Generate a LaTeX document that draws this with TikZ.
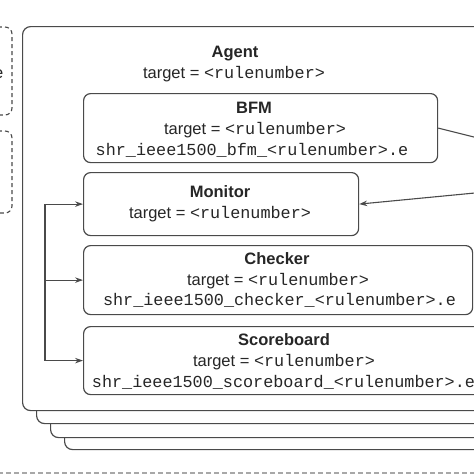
\documentclass[tikz,border=0pt]{standalone}
\usepackage{fontspec}
\setmainfont{Liberation Sans}
\newfontfamily\monofam{Liberation Mono}
\usetikzlibrary{arrows.meta}
\definecolor{ln}{HTML}{4A4A4A}
\definecolor{tx}{HTML}{262626}
\definecolor{dl}{HTML}{A8A8A8}
\begin{document}
\begin{tikzpicture}[x=1pt,y=-1pt,
  frame/.style={draw=ln, line width=1.2pt, rounded corners=8pt, fill=white, rectangle, inner sep=0, anchor=north west},
  ibox/.style={draw=ln, line width=1.2pt, rounded corners=7pt, fill=white, rectangle, inner sep=0, anchor=north west},
  dbox/.style={draw=ln, line width=1.1pt, rounded corners=7pt, dash pattern=on 4pt off 3pt},
  ttl/.style={font=\fontsize{16.5}{18}\selectfont\bfseries, text=tx, inner sep=0, anchor=base},
  lbl/.style={font=\fontsize{16.5}{18}\selectfont, text=tx, inner sep=0, anchor=base},
  mlbl/.style={font=\fontsize{16.8}{18}\selectfont\monofam, text=tx, inner sep=0, anchor=base},
  conn/.style={draw=ln, line width=1.1pt},
  arr/.style={conn, -{Stealth[length=8pt,width=5.5pt]}},
  sep/.style={draw=dl, line width=2pt, dash pattern=on 5pt off 3pt}]
\useasboundingbox (0,0) rectangle (474,474);
% left dashed boxes (cut off)
\draw[dbox] (-30,27) -- (12,27) -- (12,115) -- (-30,115);
\draw[dbox] (-30,131) -- (12,131) -- (12,213) -- (-30,213);
\node[lbl, anchor=base east] (cut) at (3.5,78) {e};
% stacked agent frames
\node[frame, minimum width=520pt, minimum height=381pt] (s3) at (64,68) {};
\node[frame, minimum width=520pt, minimum height=383pt] (s2) at (50,54) {};
\node[frame, minimum width=520pt, minimum height=383pt] (s1) at (36,40) {};
\node[frame, minimum width=520pt, minimum height=384pt] (agent) at (22,26) {};
\node[ttl] (agentT) at (235,57) {Agent};
\node[lbl] (agentL) at (234,78) {target = {\monofam\fontsize{16.8}{18}\selectfont <rulenumber>}};
% BFM
\node[ibox, minimum width=354pt, minimum height=69pt] (bfm) at (83,93) {};
\node[ttl] (bfmT) at (254,113) {BFM};
\node[lbl] (bfmL) at (255,134) {target = {\monofam\fontsize{16.8}{18}\selectfont <rulenumber>}};
\node[mlbl] (bfmF) at (252,155) {shr\_ieee1500\_bfm\_<rulenumber>.e};
% Monitor
\node[ibox, minimum width=275pt, minimum height=63pt] (mon) at (83,172) {};
\node[ttl] (monT) at (220,197) {Monitor};
\node[lbl] (monL) at (220,218) {target = {\monofam\fontsize{16.8}{18}\selectfont <rulenumber>}};
% Checker
\node[ibox, minimum width=389pt, minimum height=69pt] (chk) at (83,245) {};
\node[ttl] (chkT) at (277,264) {Checker};
\node[lbl] (chkL) at (278,285) {target = {\monofam\fontsize{16.8}{18}\selectfont <rulenumber>}};
\node[mlbl] (chkF) at (279.5,305) {shr\_ieee1500\_checker\_<rulenumber>.e};
% Scoreboard
\node[ibox, minimum width=440pt, minimum height=68pt] (sb) at (83,326) {};
\node[ttl] (sbT) at (284,345) {Scoreboard};
\node[lbl] (sbL) at (284,366) {target = {\monofam\fontsize{16.8}{18}\selectfont <rulenumber>}};
\node[mlbl] (sbF) at (283.5,387) {shr\_ieee1500\_scoreboard\_<rulenumber>.e};
% connectors
\coordinate (bus) at (45,0);
\draw[arr] (bus |- chk.west) |- (mon.west);
\draw[arr] (bus |- chk.west) |- (sb.west);
\draw[arr] (bus |- chk.west) -- (chk.west);
\coordinate (rb) at (480,138.5);
\coordinate (rm) at (480,192.5);
\draw[conn] (bfm.east) -- (rb);
\draw[arr] (rm) -- (mon.east);
% bottom separator
\draw[sep] (-2,472.8) -- (480,472.8);
\end{tikzpicture}
\end{document}
